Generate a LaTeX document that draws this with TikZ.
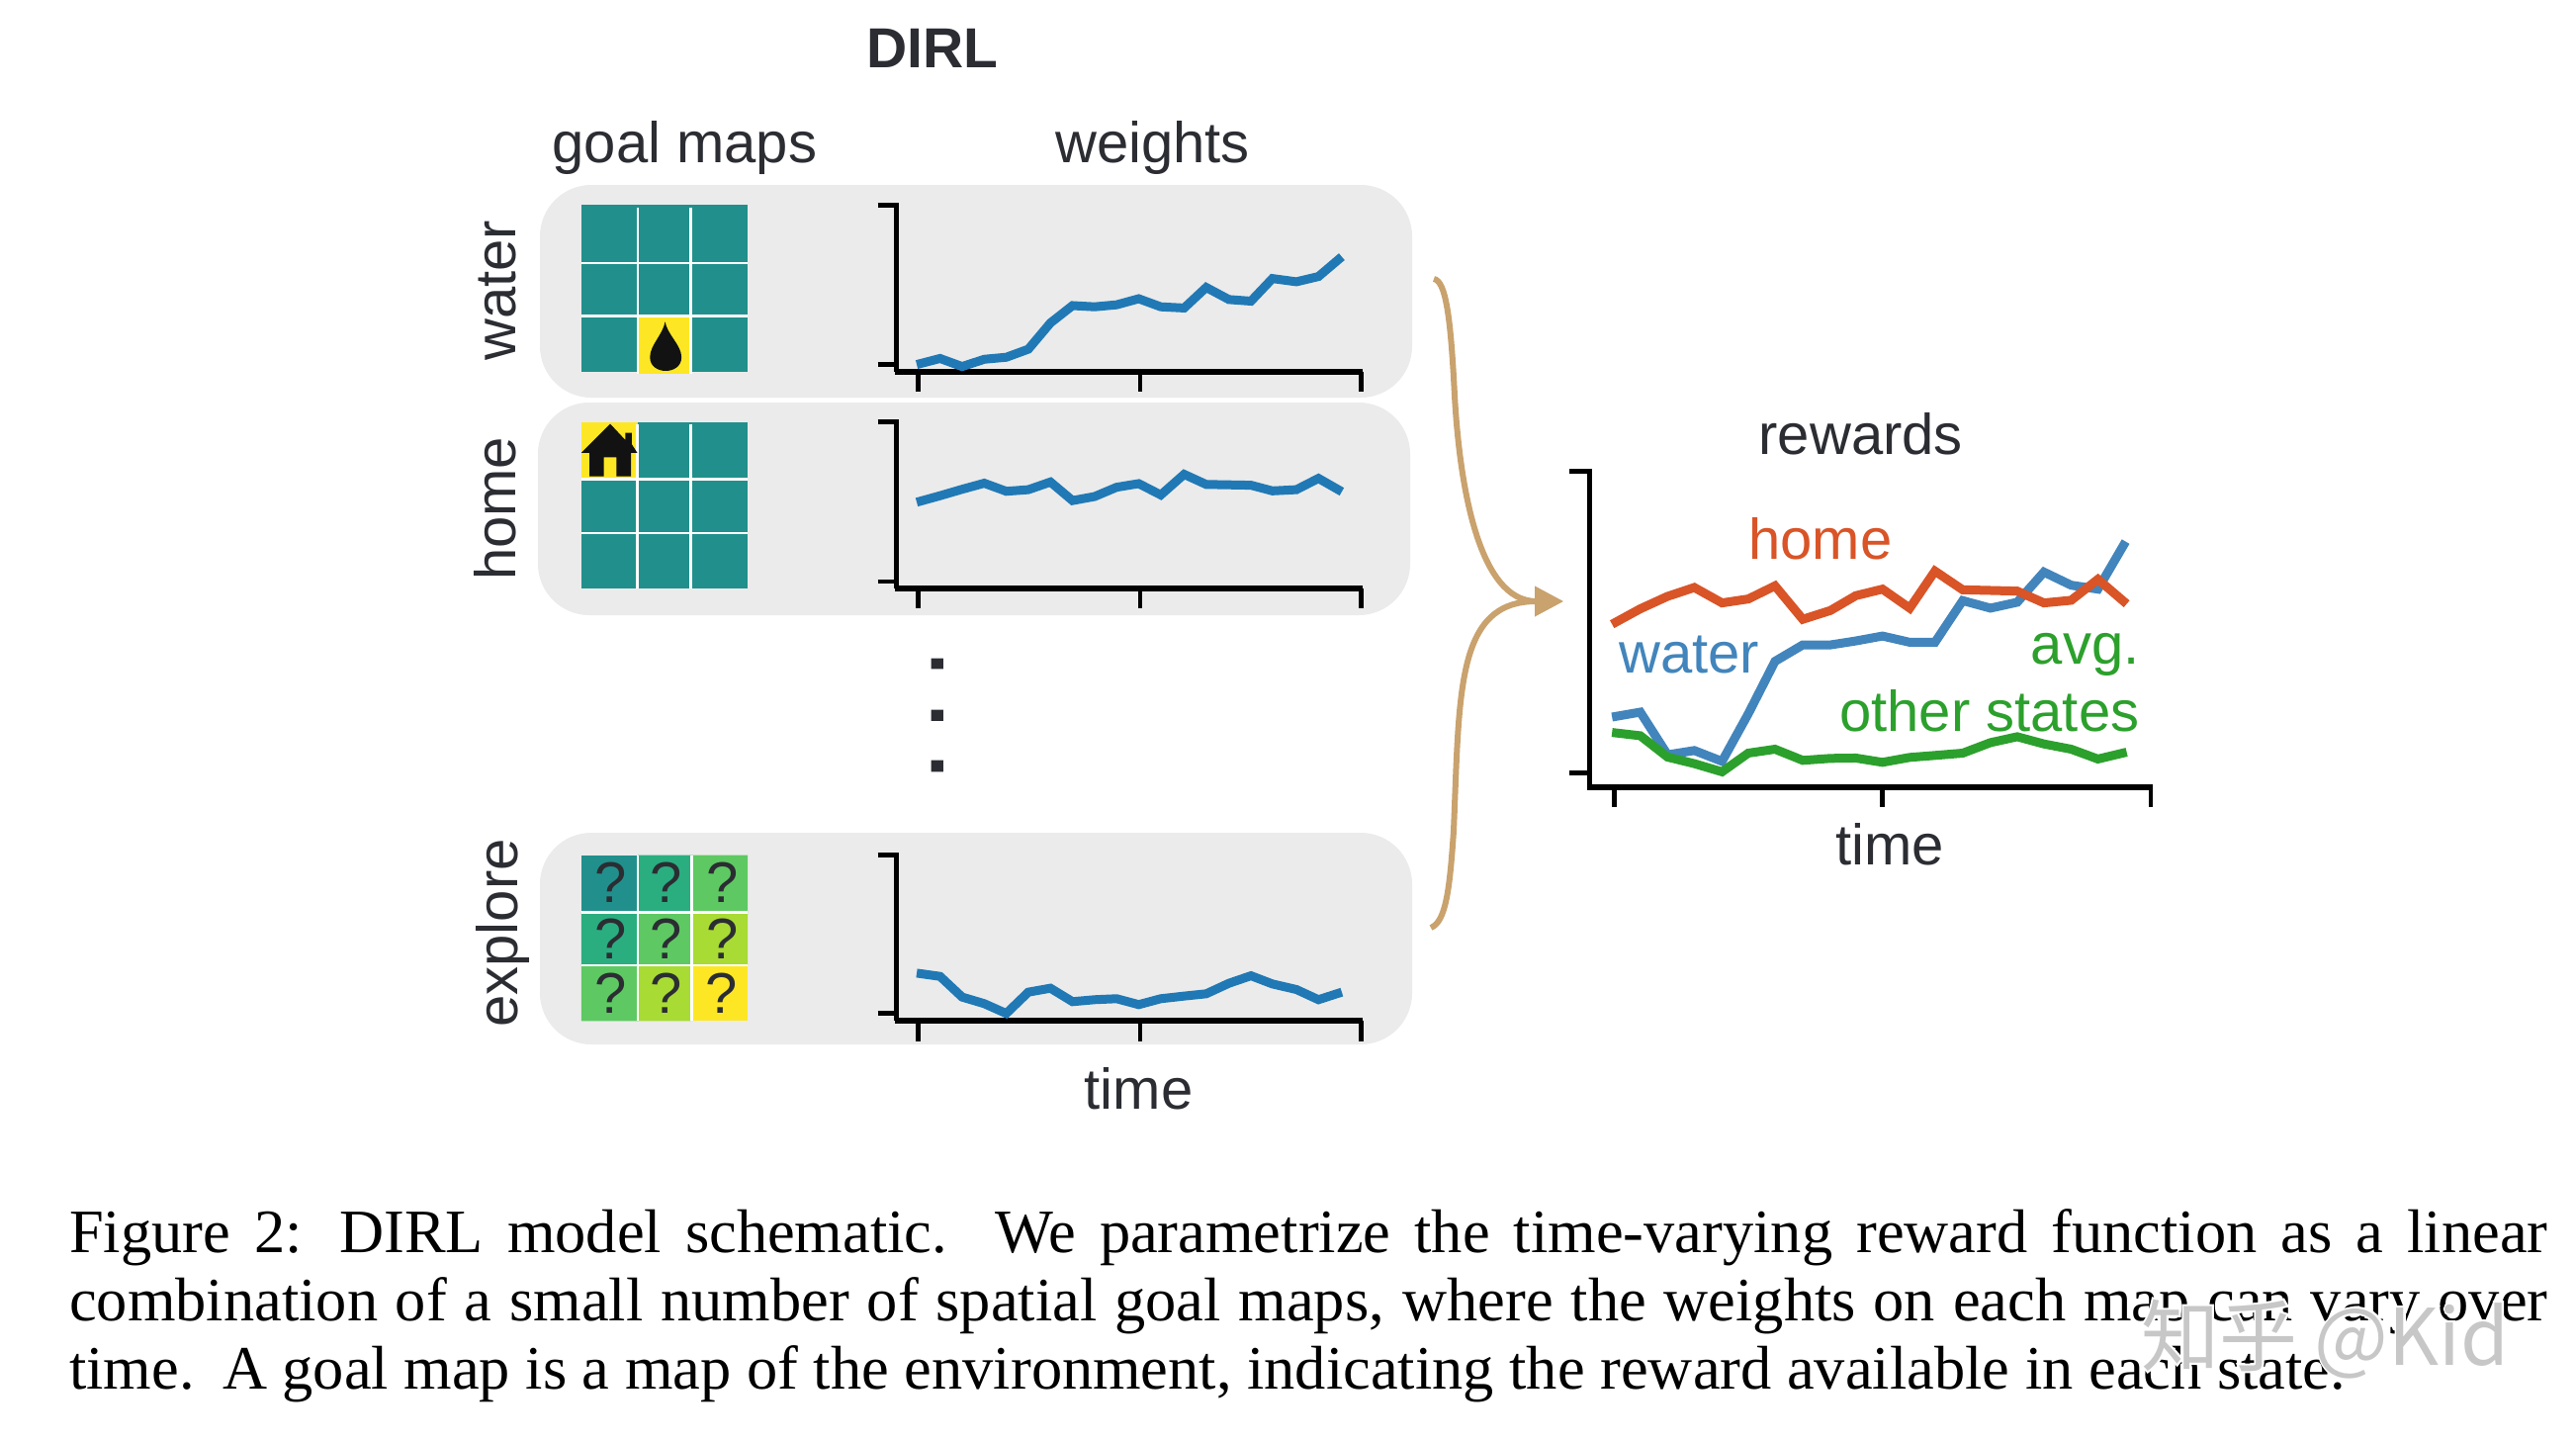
\documentclass[tikz,border=0pt]{standalone}
\usepackage{fontspec}
\setmainfont{Liberation Serif}
\newfontfamily\labfont{Liberation Sans}
\newfontfamily\wmfont{Noto Sans CJK SC}
\newfontfamily\wmhalo[FakeBold=5]{Noto Sans CJK SC}
\usetikzlibrary{arrows.meta}
\definecolor{ink}{HTML}{2B2D33}
\definecolor{panelgray}{HTML}{EBEBEB}
\definecolor{teal}{HTML}{21908C}
\definecolor{vyel}{HTML}{FDE725}
\definecolor{vb}{HTML}{2AAE80}
\definecolor{vc}{HTML}{5EC962}
\definecolor{vd}{HTML}{A8DB34}
\definecolor{wblue}{HTML}{2079B5}
\definecolor{rblue}{HTML}{4285BC}
\definecolor{rred}{HTML}{D95427}
\definecolor{rgreen}{HTML}{2CA02C}
\definecolor{arrowtan}{HTML}{C9A26D}
\tikzset{
  zA/.style={shift={(450,0)},x=0.63776pt,y=-0.40816pt},
  zB/.style={shift={(450,640)},x=0.63776pt,y=-0.33163pt},
  zC/.style={shift={(1420,400)},x=0.5102pt,y=-0.33163pt},
  panel/.style={fill=panelgray,rounded corners=52pt,inner sep=0pt,minimum width=882pt,minimum height=215pt},
  lab/.style={inner sep=0pt,anchor=base,text=ink,font=\labfont\fontsize{58}{60}\selectfont},
  axisline/.style={line width=4.5pt,black,line cap=butt},
  xaxisline/.style={line width=6pt,black},
  serieswt/.style={line width=9pt,wblue,line join=miter,line cap=butt},
  seriesrw/.style={line width=9pt,line join=miter,line cap=butt},
  gridline/.style={white,line width=2.5pt},
  qm/.style={inner sep=0pt,text=ink,font=\labfont\fontsize{58}{60}\selectfont},
  captext/.style={inner sep=0pt,anchor=base west,font=\fontsize{62.4}{69}\selectfont},
  bendarrow/.style={arrowtan,line width=6pt,-{Triangle[length=29pt,width=29pt]}},
}
\begin{document}
\begin{tikzpicture}[x=1pt,y=-1pt]
\useasboundingbox (0,0) rectangle (2605,1457);
\fill[white] (0,0) rectangle (2605,1457);
% panels
\node[panel] (pwater) at (987,294.5) {};
\node[panel] (phome) at (985,514.5) {};
\node[panel,minimum height=214pt] (pexplore) at (987,949) {};
% headings
\begin{scope}[zA]
\node[lab,font=\labfont\bfseries\fontsize{57}{60}\selectfont] (title) at (773,168) {DIRL};
\node[lab] (goalmaps) at (380,403) {goal maps};
\node[lab] (weights) at (1122,403) {weights};
\node[lab,rotate=90] (lwater) at (112,720) {water};
\node[lab,rotate=90] (lhome) at (112,1260) {home};
% water grid
\fill[teal] (216,508) rectangle (480,920);
\fill[vyel] (306,783) rectangle (390,925);
\draw[gridline] (306,514)--(306,925) (390,514)--(390,925) (216,652)--(480,652) (216,783)--(480,783);
\fill[black!93] (349,797) .. controls (345,830) and (325,855) .. (325,885) .. controls (325,930) and (375,930) .. (375,885) .. controls (375,855) and (353,830) .. (349,797) -- cycle;
% home grid
\fill[teal] (216,1045) rectangle (480,1458);
\fill[vyel] (216,1045) rectangle (305,1183);
\draw[gridline] (305,1050)--(305,1458) (390,1050)--(390,1458) (216,1187)--(480,1187) (216,1320)--(480,1320);
\fill[black!93,even odd rule] (262,1050)--(286,1090)--(286,1072)--(296,1072)--(296,1100)--(305,1122)--(295,1122)--(295,1180)--(272,1180)--(272,1133)--(252,1133)--(252,1180)--(229,1180)--(229,1122)--(216,1122)--cycle;
% water axes
\draw[axisline] (686,508)--(716,508)--(716,920);
\draw[axisline] (686,903)--(716,903);
\draw[xaxisline] (713,920)--(1455,920);
\draw[axisline] (750,920)--(750,970) (1102,920)--(1102,970) (1453,920)--(1453,970);
\draw[serieswt] (748,903)--(785,888)--(820,908)--(855,890)--(890,885)--(925,865)--(960,800)--(995,757)--(1030,760)--(1065,755)--(1100,740)--(1135,760)--(1172,763)--(1207,712)--(1243,742)--(1278,746)--(1312,690)--(1350,698)--(1385,685)--(1422,636);
% home axes
\draw[axisline] (686,1045)--(716,1045)--(716,1458);
\draw[axisline] (686,1440)--(716,1440);
\draw[xaxisline] (713,1458)--(1455,1458);
\draw[axisline] (750,1458)--(750,1507) (1102,1458)--(1102,1507) (1453,1458)--(1453,1507);
\draw[serieswt] (748,1244)--(785,1228)--(820,1212)--(855,1197)--(890,1217)--(925,1213)--(960,1194)--(995,1240)--(1030,1230)--(1065,1207)--(1100,1198)--(1135,1226)--(1172,1175)--(1207,1200)--(1243,1201)--(1278,1202)--(1312,1216)--(1350,1213)--(1385,1185)--(1422,1218);
\end{scope}
\begin{scope}[zB]
\node[lab,rotate=90] (lexplore) at (115,915) {explore};
\node[lab] (timea) at (1100,1453) {time};
% dots
\fill[ink] (771,77) rectangle (790,110) (771,234) rectangle (790,268) (771,388) rectangle (790,423);
% explore grid
\fill[teal] (216,677) rectangle (306,852);
\fill[vb] (306,677) rectangle (390,852) (216,852) rectangle (306,1013);
\fill[vc] (390,677) rectangle (480,852) (306,852) rectangle (390,1013) (216,1013) rectangle (306,1183);
\fill[vd] (390,852) rectangle (480,1013) (306,1013) rectangle (390,1183);
\fill[vyel] (390,1013) rectangle (480,1183);
\draw[gridline] (306,677)--(306,1183) (391,677)--(391,1183) (216,852)--(480,852) (216,1013)--(480,1013);
\foreach \cx/\cy/\nm in {263/762/a,351/762/b,440/762/c,263/933/d,351/933/e,440/933/f,263/1098/g,351/1098/h,438/1098/i}
  \node[qm] (q\nm) at (\cx,\cy) {?};
% explore axes
\draw[axisline] (686,677)--(716,677)--(716,1183);
\draw[axisline] (686,1159)--(716,1159);
\draw[xaxisline] (713,1183)--(1455,1183);
\draw[axisline] (750,1183)--(750,1245) (1102,1183)--(1102,1245) (1453,1183)--(1453,1245);
\draw[serieswt] (748,1037)--(785,1047)--(820,1110)--(855,1130)--(890,1160)--(925,1095)--(960,1083)--(995,1124)--(1030,1118)--(1065,1115)--(1100,1133)--(1135,1115)--(1172,1107)--(1207,1100)--(1243,1068)--(1278,1045)--(1312,1070)--(1350,1087)--(1385,1118)--(1422,1095);
\end{scope}
% rewards
\begin{scope}[zC]
\node[lab] (rewards) at (905,178) {rewards};
\node[lab,text=rred] (lrhome) at (825,498) {home};
\node[lab,text=rblue] (lrwater) at (565,845) {water};
\node[lab,text=rgreen] (lravg) at (1350,818) {avg.};
\node[lab,text=rgreen] (lrother) at (1160,1025) {other states};
\node[lab] (timeb) at (962,1432) {time};
\draw[axisline] (328,230)--(367,230)--(367,1195);
\draw[axisline] (328,1150)--(367,1150);
\draw[xaxisline] (363,1195)--(1484,1195);
\draw[axisline] (416,1195)--(416,1255) (948,1195)--(948,1255) (1480,1195)--(1480,1255);
\draw[seriesrw,rblue] (412,980)--(468,965)--(522,1095)--(575,1082)--(630,1115)--(682,970)--(735,810)--(790,760)--(845,760)--(895,748)--(948,733)--(1002,752)--(1052,752)--(1107,625)--(1162,648)--(1215,630)--(1268,538)--(1322,578)--(1375,590)--(1430,445);
\draw[seriesrw,rgreen] (412,1027)--(468,1037)--(522,1102)--(575,1122)--(630,1147)--(682,1090)--(735,1078)--(790,1112)--(845,1106)--(895,1105)--(948,1118)--(1002,1103)--(1052,1097)--(1107,1090)--(1162,1058)--(1215,1040)--(1268,1062)--(1322,1078)--(1375,1108)--(1432,1087);
\draw[seriesrw,rred] (412,697)--(468,650)--(522,612)--(575,585)--(630,632)--(682,620)--(735,580)--(790,682)--(845,655)--(895,610)--(948,590)--(1002,648)--(1052,535)--(1107,592)--(1162,594)--(1215,596)--(1268,632)--(1322,624)--(1375,560)--(1432,635);
\end{scope}
% bent arrows
\coordinate (upstart) at (1450,282);
\coordinate (lowstart) at (1447,938);
\coordinate (tip) at (1581,608);
\draw[bendarrow] (upstart) .. controls (1462,284) and (1467,320) .. (1471,400) .. controls (1476,490) and (1495,608) .. (tip);
\draw[bendarrow] (lowstart) .. controls (1462,932) and (1466,900) .. (1470,840) .. controls (1476,700) and (1472,608) .. (tip);
% caption
\node[captext] (cap1) at (70,1266) {\hbox to 2506pt{Figure 2: DIRL model schematic.\ \ We parametrize the time-varying reward function as a linear}};
\node[captext] (cap2) at (70,1335) {\hbox to 2506pt{combination of a small number of spatial goal maps, where the weights on each map can vary over}};
\node[captext] (cap3) at (70,1404) {time.\hspace{0.12em} A goal map is a map of the environment, indicating the reward available in each state.};
% watermark
\node[inner sep=0pt,anchor=base west,text=white,font=\wmhalo\fontsize{79}{80}\selectfont] (wmhalo) at (2165,1380) {知乎 @Kid};
\node[inner sep=0pt,anchor=base west,text=black!22,font=\wmfont\fontsize{79}{80}\selectfont] (wm) at (2165,1380) {知乎 @Kid};
\end{tikzpicture}
\end{document}
